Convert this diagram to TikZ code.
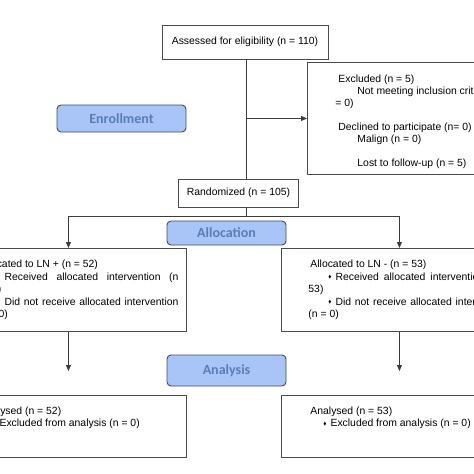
\documentclass[tikz,border=0pt]{standalone}
\usepackage{fontspec}
\usepackage{amssymb}
\setmainfont{Liberation Sans}
\newfontfamily\hdfont{Carlito}
\usetikzlibrary{positioning,arrows.meta,calc}
\definecolor{ink}{HTML}{3C3C3C}
\definecolor{frame}{HTML}{4A4A4A}
\definecolor{hdfill}{HTML}{A9C5F7}
\definecolor{hdline}{HTML}{414A5C}
\definecolor{hdtext}{HTML}{5B7DB5}
\newcommand{\bx}{\fontsize{10.4pt}{12.5pt}\selectfont}
\newcommand{\dmd}{\raisebox{.3ex}{\scalebox{.45}{$\blacklozenge$}}}
\tikzset{
  box/.style={draw=frame, line width=0.9pt, fill=white, inner xsep=8pt, inner ysep=0pt,
    font=\bx, text=black},
  hdr/.style={draw=hdline, line width=0.9pt, rounded corners=4pt, fill=hdfill, text=hdtext,
    font=\hdfont\bfseries\fontsize{14pt}{14pt}\selectfont, minimum width=119pt},
  arr/.style={-{Triangle[length=6pt,width=5pt]}, line width=0.8pt, color=ink},
  lnk/.style={line width=0.8pt, color=ink},
}

\begin{document}
\begin{tikzpicture}[x=1pt, y=-1pt]
    \useasboundingbox (0,0) rectangle (474,474);
    \clip (0,0) rectangle (474,474);
    % enrollment
    \node[box, minimum width=166pt, minimum height=34pt] (elig) at (245,42)
      {Assessed for eligibility (n = 110)};
    \node[box, anchor=north west, minimum height=112pt, font=\fontsize{10.4pt}{12pt}\selectfont] (excl) at (307,62)
      {\hspace*{20pt}\parbox{180pt}{\raggedright\vspace*{6pt}
        \hspace*{3pt}Excluded (n = 5)\\
        \hspace*{22pt}Not meeting inclusion criteria (n\\
        = 0)\\[12pt]
        \hspace*{3pt}Declined to participate (n= 0)\\
        \hspace*{22pt}Malign (n = 0)\\[12pt]
        \hspace*{22pt}Lost to follow-up (n = 5)}};
    \node[hdr, minimum width=129pt, minimum height=27pt] (enr) at (121.5,118.5) {Enrollment};
    \node[box, minimum width=117pt, minimum height=28pt] (rand) at (238.5,193)
      {Randomized (n = 105)};
    % allocation
    \node[hdr, minimum height=24pt] (alc) at (226.5,233) {Allocation};
    \node[box, anchor=north west, minimum height=83pt] (lnp) at (-50,248)
      {\hspace*{19pt}\parbox{201pt}{
        \hspace*{2pt}Allocated to LN + (n = 52)\par
        \hspace*{20pt}\dmd\hspace{4pt}Received allocated intervention (n\linebreak = 52)\par
        \hspace*{20pt}\dmd\hspace{4pt}Did not receive allocated intervention\linebreak (n = 0)}};
    \node[box, anchor=north west, minimum height=83pt] (lnm) at (281,248)
      {\hspace*{19pt}\parbox{201pt}{
        \hspace*{2pt}Allocated to LN - (n = 53)\par
        \hspace*{20pt}\dmd\hspace{4pt}Received allocated intervention (n =\linebreak 53)\par
        \hspace*{20pt}\dmd\hspace{4pt}Did not receive allocated intervention\linebreak (n = 0)}};
    % analysis
    \node[hdr, minimum height=31pt] (ana) at (226.5,370.5) {Analysis};
    \node[box, anchor=north west, minimum height=62pt] (anp) at (-50,395)
      {\hspace*{19pt}\parbox[c][39pt][t]{201pt}{\raggedright
        \hspace*{2pt}Analysed (n = 52)\\
        \hspace*{15pt}\dmd\hspace{4pt}Excluded from analysis (n = 0)}};
    \node[box, anchor=north west, minimum height=62pt] (anm) at (281,395)
      {\hspace*{19pt}\parbox[c][39pt][t]{201pt}{\raggedright
        \hspace*{2pt}Analysed (n = 53)\\
        \hspace*{15pt}\dmd\hspace{4pt}Excluded from analysis (n = 0)}};
    % connectors
    \coordinate (fork) at (246,216);
    \draw[lnk] (elig.south -| fork) -- (rand.north -| fork);
    \draw[arr] (fork |- excl.west) -- (excl.west);
    \draw[lnk] (rand.south -| fork) -- (fork);
    \draw[arr] (fork) -| (lnp.north);
    \draw[arr] (fork) -| (lnm.north);
    \draw[arr] (lnp.south) -- ([yshift=24pt]anp.north);
    \draw[arr] (lnm.south) -- ([yshift=24pt]anm.north);
\end{tikzpicture}
\end{document}
